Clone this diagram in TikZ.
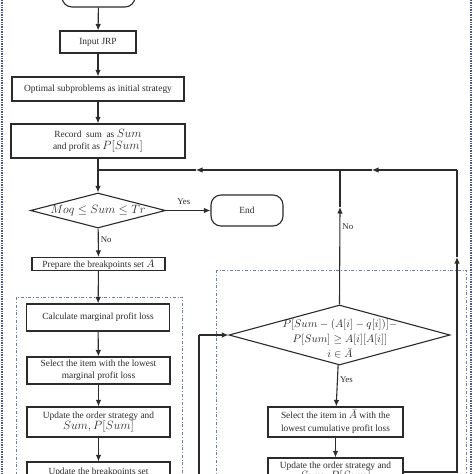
\documentclass[tikz,border=0pt]{standalone}
\usepackage{fontspec}
\setmainfont{Liberation Serif}
\usetikzlibrary{shapes.geometric,arrows.meta}
\definecolor{linec}{HTML}{2B2B2B}
\definecolor{grpc}{HTML}{6F7F9F}
\definecolor{sidec}{HTML}{4A5A85}
\newcommand{\mth}[1]{{\fontsize{12.5}{14}\selectfont$#1$}}
\newcommand{\mths}[1]{{\fontsize{10.5}{11}\selectfont$#1$}}
\begin{document}
\begin{tikzpicture}[x=1pt,y=-1pt,
  box/.style={draw=linec, line width=1.1pt, rectangle, inner sep=0pt, align=center,
    font=\fontsize{9.4}{14}\selectfont, text=linec},
  term/.style={box, rounded corners=10pt},
  dia/.style={draw=linec, line width=1.1pt, diamond, inner sep=0pt},
  dtext/.style={align=center, text=linec, inner sep=0pt},
  lbl/.style={text=linec, font=\fontsize{8.8}{10}\selectfont, inner sep=2pt},
  line/.style={draw=linec, line width=1.1pt},
  arr/.style={line, -{Latex[length=6.5pt,width=5.5pt]}},
  grp/.style={draw=grpc, line width=0.6pt, dash dot},
  side/.style={draw=sidec, line width=1.6pt, dash pattern=on 0.8pt off 0.9pt}]
\useasboundingbox (0,0) rectangle (474,474);
\clip (0,0) rectangle (474,474);
\fill[white] (0,0) rectangle (474,474);

% side dotted lines
\coordinate (sl1) at (2,0); \coordinate (sl2) at (2,474);
\coordinate (sr1) at (471,0); \coordinate (sr2) at (471,474);
\draw[side] (sl1) -- (sl2);
\draw[side] (sr1) -- (sr2);

% group boxes
\coordinate (g1a) at (16,297); \coordinate (g1b) at (182,530);
\coordinate (g2a) at (216,270); \coordinate (g2b) at (466,530);
\draw[grp] (g1a) rectangle (g1b);
\draw[grp] (g2a) rectangle (g2b);

% main column
\node[term, minimum width=73pt, minimum height=27pt] (start) at (98.5,-6.5) {};
\node[box, minimum width=76pt, minimum height=22pt] (inp) at (98,42) {Input JRP};
\node[box, minimum width=172pt, minimum height=24pt] (opt) at (98,89) {Optimal subproblems as initial strategy};
\node[box, minimum width=174pt, minimum height=34pt] (rec) at (98,141)
  {Record\ \ sum\ \ as \mth{Sum}\\[-2pt] and profit as \mth{P[Sum]}};
\coordinate (j1) at (98,170);
\node[dia, minimum width=135pt, minimum height=35pt] (d1) at (98,210.5) {};
\node[dtext, font=\fontsize{11.6}{14}\selectfont] (d1t) at (98,211) {$Moq \le Sum \le Tr$};
\node[term, minimum width=72pt, minimum height=31pt] (end) at (247,210.5) {End};
\node[box, minimum width=133pt, minimum height=12pt, inner ysep=1pt] (prep) at (98.5,264)
  {Prepare the breakpoints set \mths{\bar{A}}};

% left group
\node[box, minimum width=143pt, minimum height=27pt] (calc) at (98,317.5) {Calculate marginal profit loss};
\node[box, minimum width=143pt, minimum height=27pt] (sel) at (98.5,370.5)
  {Select the item with the lowest\\[-2pt] marginal profit loss};
\node[box, minimum width=143pt, minimum height=30pt] (upd) at (98.5,422)
  {Update the order strategy and\\[-3pt] \mth{Sum, P[Sum]}};
\node[box, minimum width=143pt, minimum height=30pt] (updbp) at (98.5,477)
  {Update the breakpoints set\\[-2pt] \mths{\bar{A}}};

% right group
\node[dia, minimum width=221pt, minimum height=60pt] (d2) at (339.5,335) {};
\node[dtext, font=\fontsize{11.3}{15}\selectfont] (d2t) at (340,339)
  {$P[Sum-(A[i]-q[i])]-$\\ $P[Sum]\ge A[i][A[i]]$\\ $i\in \bar{A}$};
\node[box, minimum width=135pt, minimum height=30pt] (sel2) at (335.5,422)
  {Select the item in \mths{\bar{A}} with the\\[-1pt] lowest cumulative profit loss};
\node[box, minimum width=135pt, minimum height=28pt] (upd2) at (335.5,472)
  {Update the order strategy and\\[-3pt] \mth{Sum, P[Sum]}};

% connectors main
\draw[arr] (start) -- (inp);
\draw[arr] (inp) -- (opt);
\draw[arr] (opt) -- (rec);
\draw[arr] (rec) -- (d1);
\draw[arr] (d1) -- node[lbl, above, pos=0.4, yshift=3pt] {Yes} (end);
\draw[arr] (d1) -- node[lbl, right, pos=0.4] {No} (prep);
\draw[arr] (prep) -- (calc);
\draw[arr] (calc) -- (sel);
\draw[arr] (sel) -- (upd);
\draw[arr] (upd) -- (updbp);

% right group connectors
\draw[arr] (d2) -- node[lbl, right, pos=0.35] {Yes} (sel2);
\draw[arr] (sel2) -- (upd2);

% loop from right update back up
\coordinate (r1) at (457,472);
\coordinate (ra) at (457,257);
\coordinate (r2) at (457,170);
\coordinate (m1) at (372,170);
\coordinate (j2) at (340,170);
\coordinate (ma) at (196,170);
\coordinate (na) at (340,207);
\draw[arr] (upd2.east) -- (r1) -- (ra);
\draw[line] (ra) -- (r2);
\draw[arr] (r2) -- (m1);
\draw[line] (m1) -- (j2);
\draw[arr] (j2) -- (ma);
\draw[line] (ma) -- (j1);
\draw[arr] (d2.north) -- node[lbl, right, pos=0.8] {No} (na);
\draw[line] (na) -- (j2);

% loop from left group into big diamond
\coordinate (l1) at (199,530);
\coordinate (l2) at (199,335);
\draw[line] (l1) -- (l2);
\draw[arr] (l2) -- (d2.west);
\end{tikzpicture}
\end{document}
